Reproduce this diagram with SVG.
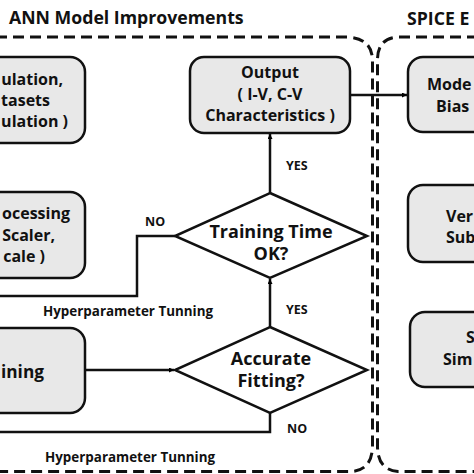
<svg xmlns="http://www.w3.org/2000/svg" width="474" height="474" viewBox="0 0 474 474">
<defs>
<marker id="ah" viewBox="0 0 10 10" refX="10" refY="5" markerWidth="5" markerHeight="5" orient="auto" markerUnits="userSpaceOnUse">
<path d="M0,0 L10,5 L0,10 z" fill="#000"/>
</marker>
<style>
text{font-family:"Open Sans","Liberation Sans",sans-serif;font-weight:bold;fill:#111}
.box{fill:#e8e8e8;stroke:#111;stroke-width:2.5}
.dia{fill:#fff;stroke:#111;stroke-width:2.5}
.con{fill:none;stroke:#111;stroke-width:2.5}
.dash{fill:none;stroke:#111;stroke-width:3;stroke-dasharray:11 6}
.bt{font-size:16px}
.dt{font-size:18px}
.lb{font-size:12.5px}
.hp{font-size:13.4px}
.title{font-size:17.7px}
</style>
</defs>
<rect width="474" height="474" fill="#fff"/>
<g id="containers">
<path class="dash" d="M-4,37 H347 Q372,38 372.5,60 V446 Q372,470 352,471.5 H-4"/>
<path class="dash" d="M478,37 H398 Q377.5,38 377.5,60 V446 Q377.5,470 398,471.5 H478"/>
<text class="title" x="9" y="24">ANN Model Improvements</text>
<text class="title" x="407" y="25">SPICE E</text>
</g>
<g id="connectors">
<line class="con" x1="350" y1="95" x2="407" y2="95" marker-end="url(#ah)"/>
<line class="con" x1="270" y1="193" x2="270" y2="134" marker-end="url(#ah)"/>
<line class="con" x1="270" y1="327" x2="270" y2="279" marker-end="url(#ah)"/>
<line class="con" x1="85" y1="370" x2="174" y2="370" marker-end="url(#ah)"/>
<polyline class="con" points="175,236 137,236 137,296 -5,296"/>
<polyline class="con" points="270,413 270,432 -5,432"/>
<text class="lb" x="286" y="170">YES</text>
<text class="lb" x="286" y="314">YES</text>
<text class="lb" x="145" y="226">NO</text>
<text class="lb" x="287" y="433">NO</text>
<text class="hp" x="43" y="316">Hyperparameter Tunning</text>
<text class="hp" x="45" y="462">Hyperparameter Tunning</text>
</g>
<g id="simulation">
<rect class="box" x="-80" y="57" width="165" height="86" rx="15"/>
<text class="bt" x="63" y="85" text-anchor="end">ulation,</text>
<text class="bt" x="50" y="106" text-anchor="end">tasets</text>
<text class="bt" x="68" y="127" text-anchor="end">ulation )</text>
</g>
<g id="preprocessing">
<rect class="box" x="-80" y="192" width="165" height="86" rx="15"/>
<text class="bt" x="70" y="219" text-anchor="end">ocessing</text>
<text class="bt" x="55" y="241" text-anchor="end">Scaler,</text>
<text class="bt" x="45" y="262" text-anchor="end">cale )</text>
</g>
<g id="training">
<rect class="box" x="-80" y="328" width="165" height="85" rx="15"/>
<text class="dt" x="1" y="378" textLength="43" lengthAdjust="spacingAndGlyphs">ining</text>
</g>
<g id="output">
<rect class="box" x="190" y="57" width="160" height="76" rx="14"/>
<text class="bt" x="270" y="78" text-anchor="middle">Output</text>
<text class="bt" x="270" y="100" text-anchor="middle">( I-V, C-V</text>
<text class="bt" x="270" y="121" text-anchor="middle">Characteristics )</text>
</g>
<g id="training-time">
<polygon class="dia" points="270,193 367,236 270,278 175,236"/>
<text class="dt" x="271" y="238" text-anchor="middle">Training Time</text>
<text class="dt" x="271" y="260" text-anchor="middle">OK?</text>
</g>
<g id="accurate-fitting">
<polygon class="dia" points="270,327 367,370 270,413 175,370"/>
<text class="dt" x="271" y="365" text-anchor="middle">Accurate</text>
<text class="dt" x="271" y="387" text-anchor="middle">Fitting?</text>
</g>
<g id="model">
<rect class="box" x="408" y="57" width="120" height="75" rx="15"/>
<text class="bt" x="427" y="90">Mode</text>
<text class="bt" x="436" y="112">Bias</text>
</g>
<g id="verification">
<rect class="box" x="408" y="185" width="120" height="77" rx="15"/>
<text class="bt" x="446" y="222">Ver</text>
<text class="bt" x="446" y="243">Sub</text>
</g>
<g id="sim">
<rect class="box" x="410" y="312" width="120" height="75" rx="15"/>
<text class="bt" x="466" y="343">S</text>
<text class="bt" x="443" y="365">Sim</text>
</g>
</svg>
